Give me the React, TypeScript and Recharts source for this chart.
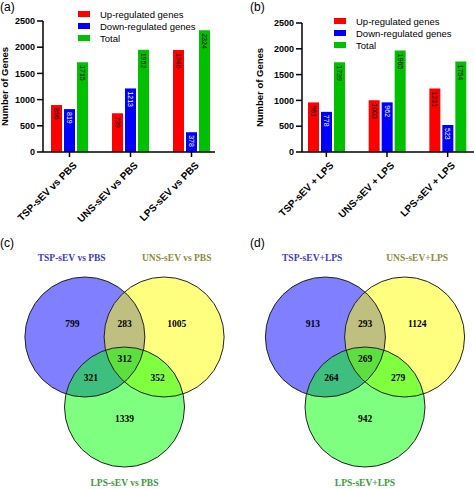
import React from 'react';
import { BarChart, Bar, XAxis, YAxis, LabelList, Legend, ScatterChart, Scatter } from 'recharts';

// (a) differential genes vs PBS
const compareA = ['TSP-sEV vs PBS', 'UNS-sEV vs PBS', 'LPS-sEV vs PBS'];
const upA = [896, 739, 1946];
const downA = [819, 1213, 378];
const totalA = [1715, 1952, 2324];

// (b) differential genes + LPS
const compareB = ['TSP-sEV + LPS', 'UNS-sEV + LPS', 'LPS-sEV + LPS'];
const upB = [961, 1003, 1231];
const downB = [778, 962, 523];
const totalB = [1739, 1965, 1754];

const seriesNames = ['Up-regulated genes', 'Down-regulated genes', 'Total'];
const yTicks = [0, 500, 1000, 1500, 2000, 2500];

// venn counts: A only, A&B, B only, A&B&C, A&C, B&C, C only
const vennSetsC = ['TSP-sEV vs PBS', 'UNS-sEV vs PBS', 'LPS-sEV vs PBS'];
const vennCountsC = [799, 283, 1005, 312, 321, 352, 1339];
const vennSetsD = ['TSP-sEV+LPS', 'UNS-sEV+LPS', 'LPS-sEV+LPS'];
const vennCountsD = [913, 293, 1124, 269, 264, 279, 942];

const SANS = '"Liberation Sans", Arial, sans-serif';
const SERIF = '"Liberation Serif", "Times New Roman", serif';
const RED = '#ff0000';
const BLUE = '#0000ff';
const GREEN = '#00c000';

const barLabel = (color: string) => (props: any) => {
  const { x, y, width, value } = props;
  const cx = Number(x) + Number(width) / 2;
  const cy = Number(y) + 3;
  return (
    <text x={cx} y={cy} transform={`rotate(90 ${cx} ${cy})`} textAnchor="start"
      dominantBaseline="central" fontSize={7} fill={color} fontFamily={SANS}>
      {value}
    </text>
  );
};

// keep legend rows in series order
const LegendBox = (props: any) => {
  const items = [...(props.payload || [])].sort(
    (a: any, b: any) => seriesNames.indexOf(a.value) - seriesNames.indexOf(b.value));
  return (
    <div style={{ fontFamily: SANS, fontSize: 9.5, color: '#000' }}>
      {items.map((p: any) => (
        <div key={p.value} style={{ display: 'flex', alignItems: 'center', height: 12 }}>
          <span style={{ display: 'inline-block', width: 12, height: 6, background: p.color, marginRight: 10 }} />
          {p.value}
        </div>
      ))}
    </div>
  );
};

interface BarPanelProps {
  names: string[];
  up: number[];
  down: number[];
  total: number[];
  top: number;
  yAxisWidth: number;
  right: number;
  padL: number;
  padR: number;
  legendLeft: number;
  legendTop: number;
  labelDx: number;
}

const BarPanel: React.FC<BarPanelProps> = (p) => {
  const data = p.names.map((name, i) => ({ name, up: p.up[i], down: p.down[i], total: p.total[i] }));
  const axisStyle = { fontSize: 9, fontWeight: 'bold' as const, fill: '#000', fontFamily: SANS };
  return (
    <BarChart width={237} height={240} data={data} barCategoryGap={12} barGap={2}
      margin={{ top: p.top, right: p.right, left: 0, bottom: 0 }}>
      <XAxis dataKey="name" height={88} angle={-45} interval={0} tickSize={5}
        tick={{ fontSize: 10, fontWeight: 'bold', fill: '#000', fontFamily: SANS, textAnchor: 'end', dx: 3, dy: 2 }}
        padding={{ left: p.padL, right: p.padR }} stroke="#000" strokeWidth={1.5} />
      <YAxis width={p.yAxisWidth} domain={[0, 2500]} ticks={yTicks} tick={axisStyle} tickSize={6}
        stroke="#000" strokeWidth={1.5}
        label={{ value: 'Number of Genes', angle: -90, position: 'center', dx: p.labelDx,
          style: { fontSize: 9.5, fontWeight: 'bold', fill: '#000', fontFamily: SANS } }} />
      <Legend layout="vertical" align="center" verticalAlign="middle" content={<LegendBox />}
        wrapperStyle={{ left: p.legendLeft, top: p.legendTop, width: 'auto' }} />
      <Bar dataKey="up" name={seriesNames[0]} fill={RED} isAnimationActive={false}>
        <LabelList dataKey="up" content={barLabel('#000')} />
      </Bar>
      <Bar dataKey="down" name={seriesNames[1]} fill={BLUE} isAnimationActive={false}>
        <LabelList dataKey="down" content={barLabel('#fff')} />
      </Bar>
      <Bar dataKey="total" name={seriesNames[2]} fill={GREEN} isAnimationActive={false}>
        <LabelList dataKey="total" content={barLabel('#000')} />
      </Bar>
    </BarChart>
  );
};

// venn layout, in circle-radius units
const CIRCLES = [
  { x: -0.66, y: 0, fill: '#0000ff' },
  { x: 0.66, y: 0, fill: '#ffff00' },
  { x: 0, y: -1.167, fill: '#00ff00' },
];
const REGION_POS = [[-0.87, 0.21], [0, 0.21], [0.87, 0.21], [0, -0.37], [-0.56, -0.68], [0.55, -0.68], [0, -1.36]];
const TITLE_POS = [[-0.88, 1.32], [0.87, 1.32], [0, -2.44]];
const TITLE_COLORS = ['#3b3bcc', '#8f8a3c', '#3a9a3a'];

interface VennProps {
  names: string[];
  counts: number[];
  centerX: number;
}

const VennPanel: React.FC<VennProps> = ({ names, counts, centerX }) => {
  const W = 237;
  const H = 249;
  const PX = 60;
  const xmin = -centerX / PX;
  const xmax = xmin + W / PX;
  const ymax = 97 / PX;
  const ymin = ymax - H / PX;
  const r = W / (xmax - xmin);
  const regions = counts.map((c, i) => ({ x: REGION_POS[i][0], y: REGION_POS[i][1], label: c }));
  const titles = names.map((n, i) => ({ x: TITLE_POS[i][0], y: TITLE_POS[i][1], label: n, color: TITLE_COLORS[i] }));
  return (
    <ScatterChart width={W} height={H} margin={{ top: 0, right: 0, bottom: 0, left: 0 }}>
      <XAxis type="number" dataKey="x" domain={[xmin, xmax]} hide allowDataOverflow />
      <YAxis type="number" dataKey="y" domain={[ymin, ymax]} hide allowDataOverflow />
      <Scatter data={CIRCLES} isAnimationActive={false}
        shape={(s: any) => <circle cx={s.cx} cy={s.cy} r={r} fill={s.payload.fill} fillOpacity={0.5} />} />
      <Scatter data={CIRCLES} isAnimationActive={false}
        shape={(s: any) => <circle cx={s.cx} cy={s.cy} r={r} fill="none" stroke="#222" strokeWidth={1} />} />
      <Scatter data={regions} isAnimationActive={false}
        shape={(s: any) => (
          <text x={s.cx} y={s.cy} textAnchor="middle" dominantBaseline="central" fontSize={9.5}
            fontWeight="bold" fontFamily={SERIF} fill="#000">{s.payload.label}</text>
        )} />
      <Scatter data={titles} isAnimationActive={false}
        shape={(s: any) => (
          <text x={s.cx} y={s.cy} textAnchor="middle" dominantBaseline="central" fontSize={9.5}
            fontWeight="bold" fontFamily={SERIF} fill={s.payload.color}>{s.payload.label}</text>
        )} />
    </ScatterChart>
  );
};

const tag = (t: string, left: number, top: number) => (
  <div style={{ position: 'absolute', left, top, fontFamily: SANS, fontSize: 12, lineHeight: '12px' }}>{t}</div>
);

export default function App() {
  return (
    <div style={{ position: 'absolute', left: 0, top: 0, width: 474, height: 489, background: '#fff', overflow: 'hidden' }}>
      <div style={{ position: 'absolute', left: 0, top: 0 }}>
        <BarPanel names={compareA} up={upA} down={downA} total={totalA} top={21} yAxisWidth={43}
          right={22} padL={-4} padR={-7} legendLeft={78} legendTop={8} labelDx={-17} />
      </div>
      <div style={{ position: 'absolute', left: 237, top: 0 }}>
        <BarPanel names={compareB} up={upB} down={downB} total={totalB} top={23} yAxisWidth={65}
          right={0} padL={-6} padR={-4} legendLeft={97} legendTop={15} labelDx={-10} />
      </div>
      <div style={{ position: 'absolute', left: 0, top: 240 }}>
        <VennPanel names={vennSetsC} counts={vennCountsC} centerX={124.5} />
      </div>
      <div style={{ position: 'absolute', left: 237, top: 240 }}>
        <VennPanel names={vennSetsD} counts={vennCountsD} centerX={128} />
      </div>
      {tag('(a)', 0, 1)}
      {tag('(b)', 250, 1)}
      {tag('(c)', 0, 237)}
      {tag('(d)', 250, 237)}
    </div>
  );
}
